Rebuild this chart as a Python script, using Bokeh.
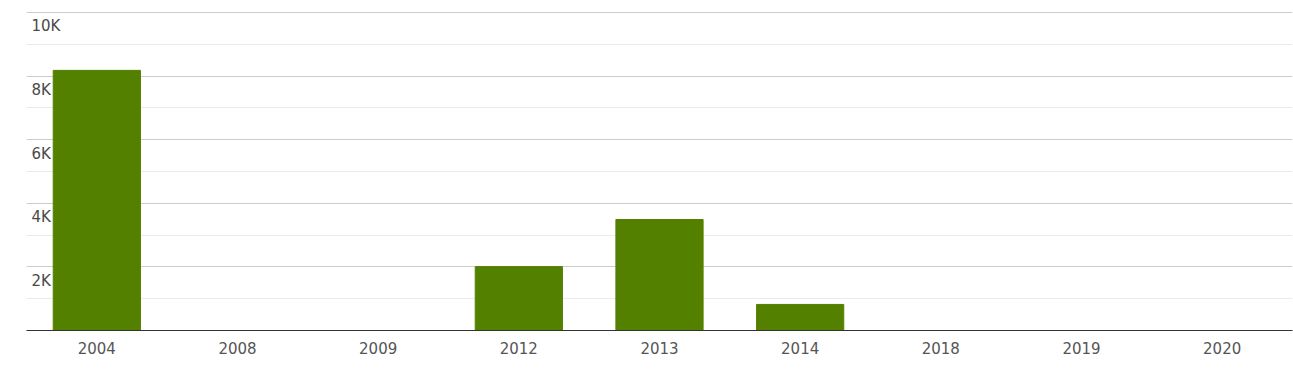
from bokeh.plotting import figure
from bokeh.models import FixedTicker, Label
from bokeh.embed import file_html
from bokeh.resources import INLINE

years = ["2004", "2008", "2009", "2012", "2013", "2014", "2018", "2019", "2020"]
values = [8180, 0, 0, 2010, 3490, 820, 0, 0, 0]
y_ticks = [2000, 4000, 6000, 8000, 10000]
y_tick_labels = ["2K", "4K", "6K", "8K", "10K"]
minor_ticks = [1000, 3000, 5000, 7000, 9000]

p = figure(x_range=years, y_range=(0, 10031), width=1293, height=384,
           output_backend="svg", toolbar_location=None,
           min_border_left=26, min_border_right=1, min_border_top=11, min_border_bottom=54)
p.outline_line_color = None
p.background_fill_color = "white"

p.yaxis.visible = False
p.xgrid.grid_line_color = None
p.ygrid.ticker = FixedTicker(ticks=[0] + y_ticks, minor_ticks=minor_ticks)
p.ygrid.grid_line_color = "#cccccc"
p.ygrid.minor_grid_line_color = "#ebebeb"

p.xaxis.axis_line_color = "#333333"
p.xaxis.major_tick_line_color = None
p.xaxis.minor_tick_line_color = None
p.xaxis.major_label_text_color = "#555555"
p.xaxis.major_label_text_font = "DejaVu Sans"
p.xaxis.major_label_text_font_size = "15px"
p.xaxis.major_label_standoff = 5

for t, lab in zip(y_ticks, y_tick_labels):
    p.add_layout(Label(x=5, x_units="screen", y=t, y_units="data", text=lab,
                       text_baseline="middle", y_offset=-14,
                       text_font="DejaVu Sans", text_font_size="15px",
                       text_color="#4a4a4a", background_fill_color="white",
                       level="underlay"))

p.vbar(x=years, top=values, width=0.62, color="#548000")

out = file_html(p, INLINE)
open("out.html", "w").write(out)
